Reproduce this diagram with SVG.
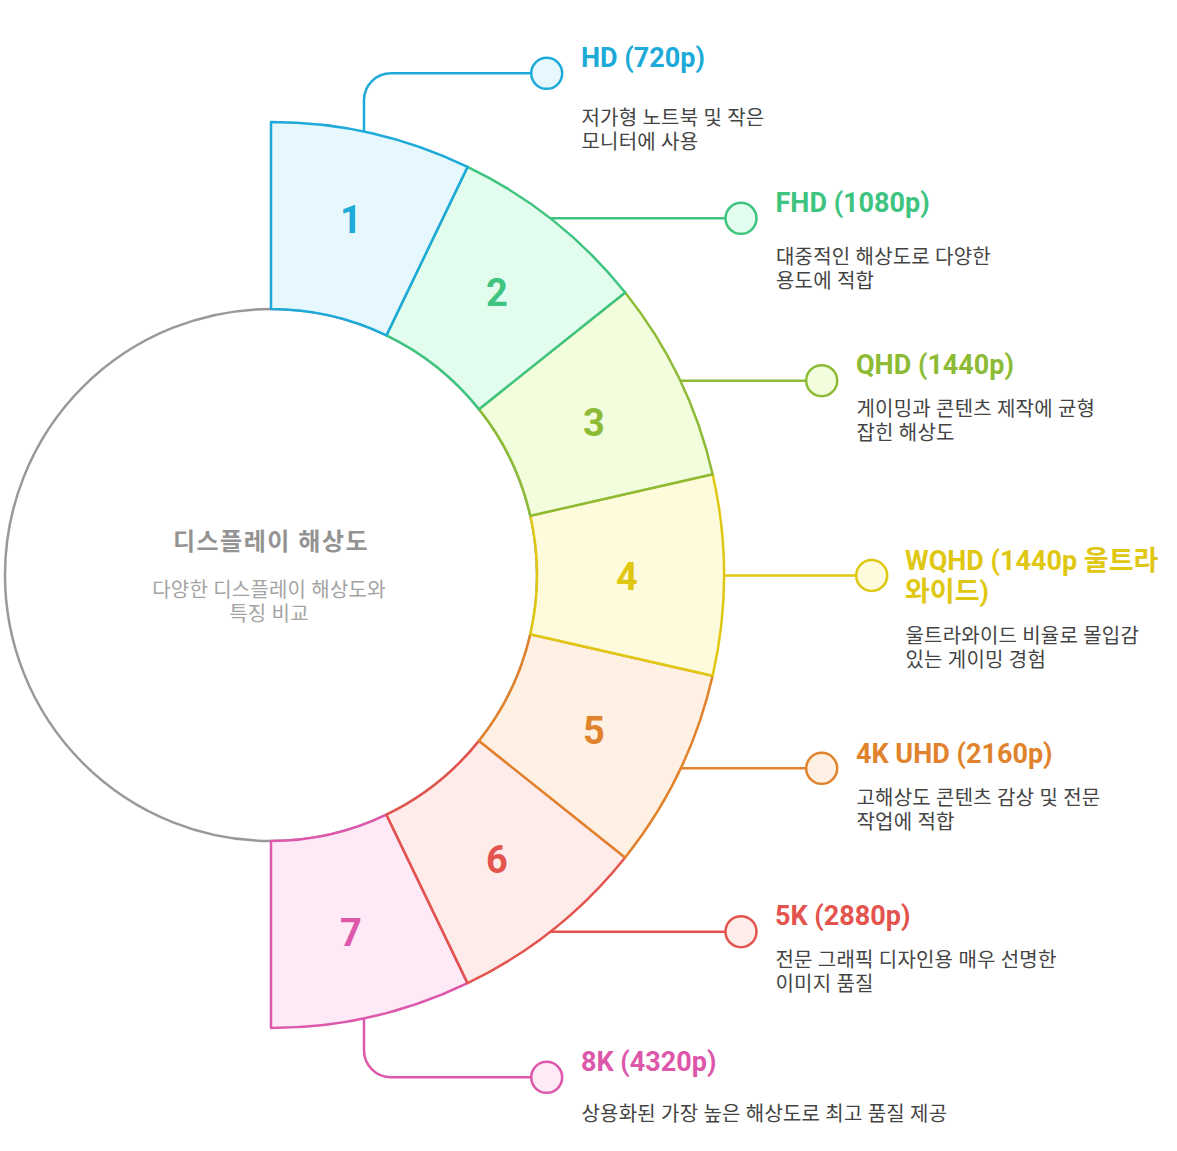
<svg xmlns="http://www.w3.org/2000/svg" width="1177" height="1151" viewBox="0 0 1177 1151">
<style>
.seg{stroke-width:2.5;stroke-linejoin:round}
.num{font-family:Roboto,"Noto Sans CJK KR",sans-serif;font-weight:700;font-size:38px;text-anchor:middle}
.hd{font-family:Roboto,"Noto Sans CJK KR",sans-serif;font-weight:700;font-size:27px}
.bd{font-family:Roboto,"Noto Sans CJK KR",sans-serif;font-size:20px;letter-spacing:0.2px;fill:#444444}
.ln{fill:none;stroke-width:2.5}
.dot{stroke-width:2.5}
.c1{stroke:#1eaad9}.f1{fill:#e6f8fe}.t1{fill:#1eaad9}
.c2{stroke:#3ec47f}.f2{fill:#e2fcee}.t2{fill:#3ec47f}
.c3{stroke:#8dbb35}.f3{fill:#f1fddc}.t3{fill:#8dbb35}
.c4{stroke:#e0c712}.f4{fill:#fefadc}.t4{fill:#e0c712}
.c5{stroke:#e0832c}.f5{fill:#fef1e4}.t5{fill:#e0832c}
.c6{stroke:#e3544e}.f6{fill:#feecea}.t6{fill:#e3544e}
.c7{stroke:#dd57aa}.f7{fill:#fdeaf6}.t7{fill:#dd57aa}
</style>
<rect width="1177" height="1151" fill="#ffffff"/>
<g id="center">
<circle cx="271" cy="575" r="266" fill="#ffffff" stroke="#999999" stroke-width="2.5"/>
<text x="271" y="550" font-family="Roboto,'Noto Sans CJK KR',sans-serif" font-weight="700" font-size="24px" letter-spacing="1.5px" fill="#939393" text-anchor="middle">디스플레이 해상도</text>
<text x="269" y="597" font-family="Roboto,'Noto Sans CJK KR',sans-serif" font-size="20px" letter-spacing="0.2px" fill="#a3a3a3" text-anchor="middle">다양한 디스플레이 해상도와</text>
<text x="269" y="621" font-family="Roboto,'Noto Sans CJK KR',sans-serif" font-size="20px" letter-spacing="0.2px" fill="#a3a3a3" text-anchor="middle">특징 비교</text>
</g>
<g id="node7">
<path class="seg c7 f7" d="M386.41,814.66 L467.55,983.14 A453,453 0 0 1 271,1028 L271,841 A266,266 0 0 0 386.41,814.66 Z"/>
<text class="num t7" x="351" y="945.5">7</text>
<text class="hd t7" x="581" y="1070.5">8K (4320p)</text>
<text class="bd" x="581.5" y="1121">상용화된 가장 높은 해상도로 최고 품질 제공</text>
</g>
<g id="node6">
<path class="seg c6 f6" d="M478.97,740.85 L625.17,857.44 A453,453 0 0 1 467.55,983.14 L386.41,814.66 A266,266 0 0 0 478.97,740.85 Z"/>
<text class="num t6" x="497" y="872.5">6</text>
<text class="hd t6" x="775" y="924.5">5K (2880p)</text>
<text class="bd" x="775.5" y="967">전문 그래픽 디자인용 매우 선명한</text>
<text class="bd" x="775.5" y="991">이미지 품질</text>
</g>
<g id="node5">
<path class="seg c5 f5" d="M530.33,634.19 L712.64,675.80 A453,453 0 0 1 625.17,857.44 L478.97,740.85 A266,266 0 0 0 530.33,634.19 Z"/>
<text class="num t5" x="594" y="743.5">5</text>
<text class="hd t5" x="856" y="762.5">4K UHD (2160p)</text>
<text class="bd" x="856.5" y="805">고해상도 콘텐츠 감상 및 전문</text>
<text class="bd" x="856.5" y="829">작업에 적합</text>
</g>
<g id="node4">
<path class="seg c4 f4" d="M530.33,515.81 L712.64,474.20 A453,453 0 0 1 712.64,675.80 L530.33,634.19 A266,266 0 0 0 530.33,515.81 Z"/>
<text class="num t4" x="627" y="590">4</text>
<text class="hd t4" x="905" y="570">WQHD (1440p 울트라</text>
<text class="hd t4" x="905" y="601">와이드)</text>
<text class="bd" x="905.5" y="643">울트라와이드 비율로 몰입감</text>
<text class="bd" x="905.5" y="667">있는 게이밍 경험</text>
</g>
<g id="node3">
<path class="seg c3 f3" d="M478.97,409.15 L625.17,292.56 A453,453 0 0 1 712.64,474.20 L530.33,515.81 A266,266 0 0 0 478.97,409.15 Z"/>
<text class="num t3" x="594" y="436">3</text>
<text class="hd t3" x="856" y="373.5">QHD (1440p)</text>
<text class="bd" x="856.5" y="416">게이밍과 콘텐츠 제작에 균형</text>
<text class="bd" x="856.5" y="440">잡힌 해상도</text>
</g>
<g id="node2">
<path class="seg c2 f2" d="M386.41,335.34 L467.55,166.86 A453,453 0 0 1 625.17,292.56 L478.97,409.15 A266,266 0 0 0 386.41,335.34 Z"/>
<text class="num t2" x="497" y="306">2</text>
<text class="hd t2" x="775.5" y="211.5">FHD (1080p)</text>
<text class="bd" x="776" y="263.5">대중적인 해상도로 다양한</text>
<text class="bd" x="776" y="287.5">용도에 적합</text>
</g>
<g id="node1">
<path class="seg c1 f1" d="M271,309 L271,122 A453,453 0 0 1 467.55,166.86 L386.41,335.34 A266,266 0 0 0 271,309 Z"/>
<text class="num t1" x="351" y="232.7">1</text>
<text class="hd t1" x="581" y="66.5">HD (720p)</text>
<text class="bd" x="581.5" y="125">저가형 노트북 및 작은</text>
<text class="bd" x="581.5" y="149">모니터에 사용</text>
</g>
<g id="connectors">
<path class="ln c1" d="M364,131.5 V100.3 A27,27 0 0 1 391,73.3 H531"/>
<circle class="dot c1 f1" cx="546.7" cy="73.3" r="15.5"/>
<path class="ln c2" d="M550,218.3 H725"/>
<circle class="dot c2 f2" cx="741" cy="218.3" r="15.5"/>
<path class="ln c3" d="M680.2,380.7 H806"/>
<circle class="dot c3 f3" cx="821.7" cy="380.7" r="15.5"/>
<path class="ln c4" d="M724,575.5 H856"/>
<circle class="dot c4 f4" cx="871.7" cy="575.5" r="15.5"/>
<path class="ln c5" d="M680.7,768.3 H806"/>
<circle class="dot c5 f5" cx="821.7" cy="768.3" r="15.5"/>
<path class="ln c6" d="M550.2,931.7 H725"/>
<circle class="dot c6 f6" cx="741" cy="931.7" r="15.5"/>
<path class="ln c7" d="M364,1018.5 V1050.3 A27,27 0 0 0 391,1077.3 H531"/>
<circle class="dot c7 f7" cx="546.7" cy="1077.3" r="15.5"/>
</g>
</svg>
